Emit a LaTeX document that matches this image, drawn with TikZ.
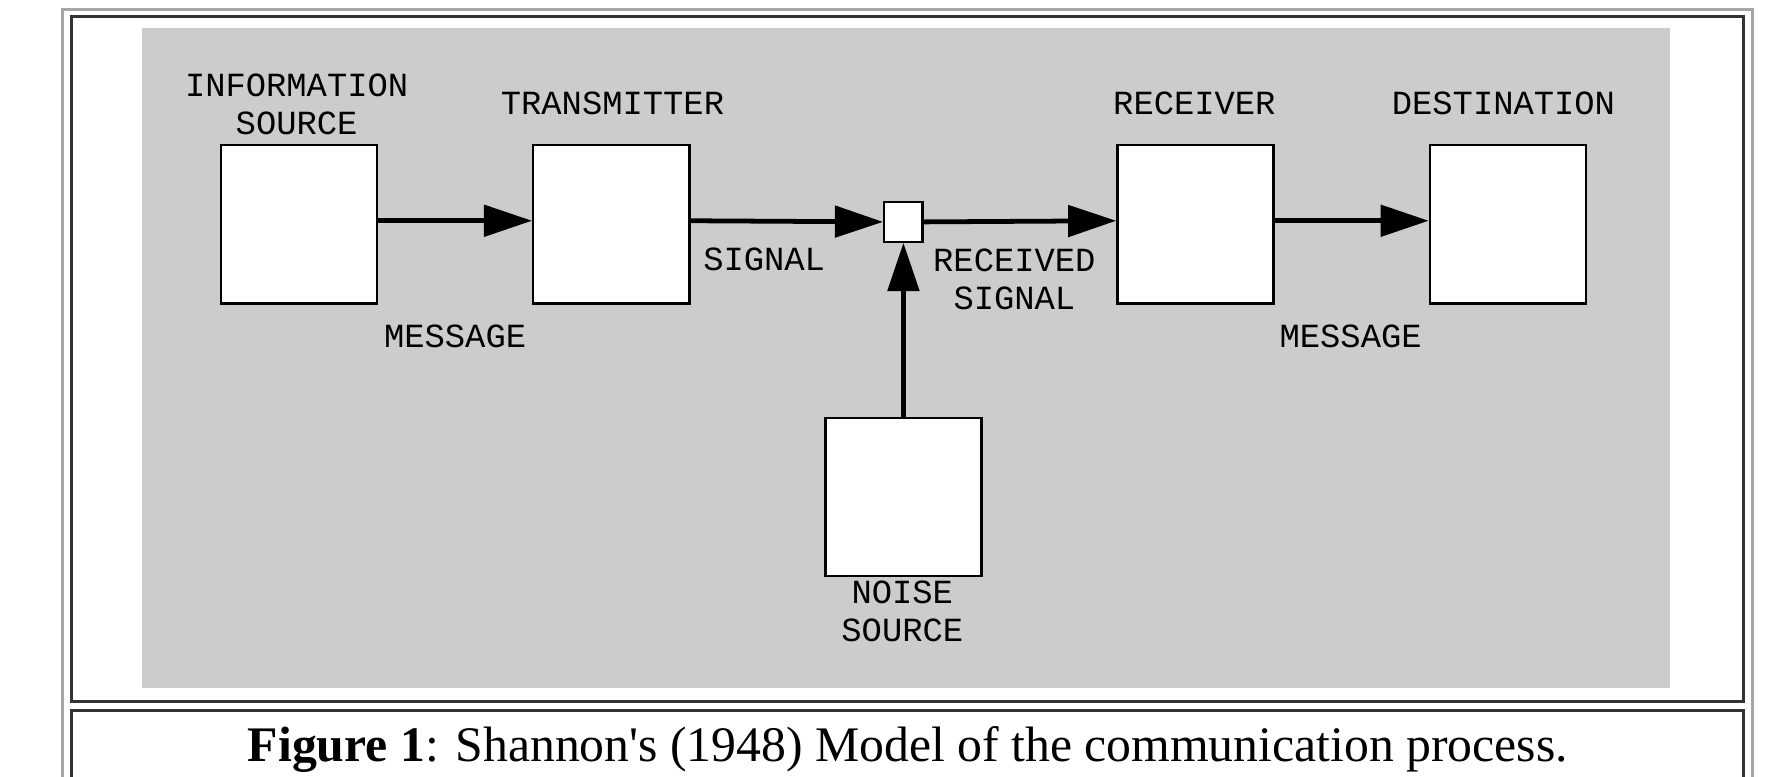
\documentclass[tikz,border=0pt]{standalone}
\usepackage{fontspec}
\setmainfont{Liberation Serif}
\newfontfamily\lbl{Liberation Mono}
\usetikzlibrary{arrows.meta}
\begin{document}
\begin{tikzpicture}[x=0.02cm,y=-0.02cm,
  box/.style={draw,line width=1.2pt,fill=white,minimum width=2.76cm,minimum height=2.8cm,inner sep=0},
  lab/.style={font=\lbl\fontsize{17}{19}\selectfont,align=center,inner sep=0},
  arr/.style={line width=2.4pt,-{Triangle[length=0.85cm,width=0.55cm]}}]
\useasboundingbox (0,0) rectangle (1567,686);
\fill[white] (0,0) rectangle (1567,686);
\draw[gray!70,line width=1.5pt] (55,8) rectangle (1548,700);
\draw[black!80,line width=1.5pt] (63,15) rectangle (1540,620);
\draw[black!80,line width=1.5pt] (63,628) rectangle (1540,700);
\fill[black!20] (125,25) rectangle (1475,608);
\node[box] (is) at (264,198) {};
\node[box] (tx) at (540,198) {};
\node[box] (rx) at (1056,198) {};
\node[box] (ds) at (1332,198) {};
\node[box] (ns) at (798,439) {};
\node[draw,line width=1.2pt,fill=white,minimum width=0.68cm,minimum height=0.7cm,inner sep=0] (ch) at (798,196) {};
\draw[arr] (is.east |- 0,195) -- (tx.west |- 0,195);
\draw[arr] (tx.east |- 0,195) -- (ch.west);
\draw[arr] (ch.east) -- (rx.west |- 0,195);
\draw[arr] (rx.east |- 0,195) -- (ds.west |- 0,195);
\draw[arr] (ns.north) -- (ch.south);
\node[lab] (l1) at (262,92) {INFORMATION\\SOURCE};
\node[lab] (l2) at (541,91) {TRANSMITTER};
\node[lab] (l3) at (1055,91) {RECEIVER};
\node[lab] (l4) at (1328,91) {DESTINATION};
\node[lab] (l5) at (402,297) {MESSAGE};
\node[lab] (l6) at (1193,297) {MESSAGE};
\node[lab] (l7) at (675,229) {SIGNAL};
\node[lab] (l8) at (896,247) {RECEIVED\\SIGNAL};
\node[lab] (l9) at (797,540) {NOISE\\SOURCE};
\node[font=\fontsize{25}{28}\selectfont,inner sep=0] (cap) at (802,662) {\textbf{Figure 1}: Shannon\textquotesingle s (1948) Model of the communication process.};
\end{tikzpicture}
\end{document}
